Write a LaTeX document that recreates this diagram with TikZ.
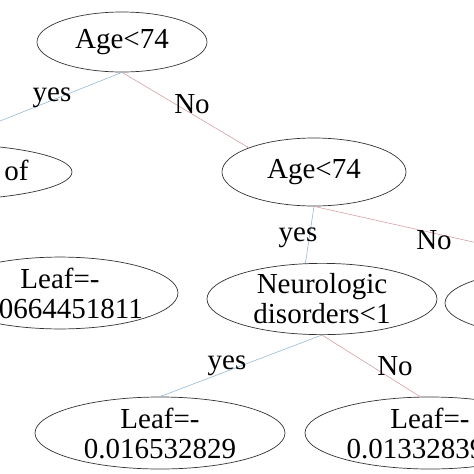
\documentclass[tikz,border=0pt]{standalone}
\usepackage{fontspec}
\setmainfont{Liberation Serif}
\usetikzlibrary{shapes.geometric,arrows.meta}
\definecolor{ylin}{RGB}{150,185,215}
\definecolor{nlin}{RGB}{215,160,165}
\begin{document}
\begin{tikzpicture}[x=1pt,y=-1pt,
  nd/.style={ellipse,draw=black!80,line width=0.7pt,inner sep=0pt,font=\fontsize{29}{30}\selectfont,align=center},
  lb/.style={font=\fontsize{29}{30}\selectfont},
  ye/.style={draw=ylin,line width=0.6pt,-{Stealth[length=2pt]}},
  no/.style={draw=nlin,line width=0.6pt,-{Stealth[length=2pt]}}]
\useasboundingbox (0,0) rectangle (474,474);
\clip (0,0) rectangle (474,474);
\node[nd,minimum width=170,minimum height=60] (t) at (122,42) {Age<74};
\node[nd,minimum width=264,minimum height=56] (l) at (-60,172) {};
\node[lb,anchor=east] (lt) at (32,170) {of};
\node[nd,minimum width=184,minimum height=68] (m) at (314,172) {Age<74};
\node[nd,minimum width=236,minimum height=64] (ll) at (60,293) {Leaf=-\\0.0664451811};
\node[nd,minimum width=230,minimum height=68] (n) at (322,299) {Neurologic\\disorders<1};
\node[nd,minimum width=250,minimum height=70] (r) at (570,303) {};
\node[nd,minimum width=250,minimum height=72] (bl) at (160,433) {Leaf=-\\0.016532829};
\node[nd,minimum width=250,minimum height=72] (br) at (430,433) {Leaf=-\\0.0133283967};
\coordinate (le) at (-10,125);
\coordinate (re) at (500,248);
\draw[ye] (t.south) -- (le);
\draw[no] (t.south) -- (m.north west);
\draw[ye] (m.south) -- (n.115);
\draw[no] (m.south) -- (re);
\draw[ye] (n.south) -- (bl.north);
\draw[no] (n.south) -- (br.105);
\node[lb] at (52,98) {yes};
\node[lb] at (192,104) {No};
\node[lb] at (298,238) {yes};
\node[lb] at (434,240) {No};
\node[lb] at (227,366) {yes};
\node[lb] at (395,366) {No};
\end{tikzpicture}
\end{document}
